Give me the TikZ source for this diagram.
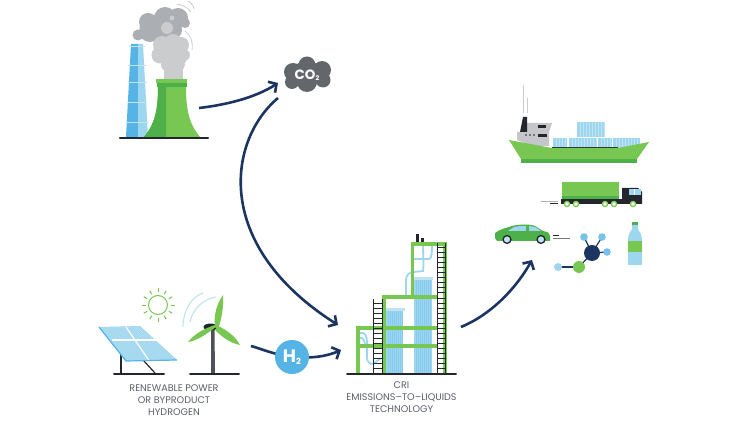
\documentclass[tikz,border=0pt]{standalone}
\usepackage{fontspec}
\setmainfont{Poppins}
\usetikzlibrary{arrows.meta,calc}
\definecolor{navy}{HTML}{1B3560}
\definecolor{gdark}{HTML}{4DB048}
\definecolor{glight}{HTML}{79C753}
\definecolor{bdark}{HTML}{55B3E6}
\definecolor{blight}{HTML}{9DD6EF}
\definecolor{bpale}{HTML}{BFE3F3}
\definecolor{ink}{HTML}{23262C}
\definecolor{smokeA}{HTML}{ABAEB2}
\definecolor{smokeB}{HTML}{CACCCE}
\definecolor{cloud}{HTML}{63676C}
\definecolor{caption}{HTML}{5A5F69}
\tikzset{
  flow/.style={draw=navy,line width=2.6pt,-{Straight Barb[length=6pt,width=13pt,line width=2.6pt]}},
  flowplain/.style={draw=navy,line width=2.6pt},
  label/.style={font=\fontsize{9.6}{12}\selectfont,text=caption,align=center,inner sep=0pt},
  rail/.style={draw=ink,line width=1.5pt},
  frame/.style={draw=glight,line width=3.3pt},
  pipe/.style={draw=blight,line width=1.8pt},
  ground/.style={draw=ink,line width=2pt,line cap=round},
  thinarc/.style={draw=bpale,line width=1.1pt},
  smokearc/.style={draw=smokeB,line width=.8pt},
  rays/.style={draw=glight,line width=1pt},
  box/.style={fill=blight},
}
\begin{document}
\begin{tikzpicture}[x=1pt,y=-1pt]
\useasboundingbox (0,0) rectangle (750,422);

% ---- industrial plant: smoke
\fill[smokeA] (138,35) circle (5.5) (148,22) circle (9) (165,18) circle (11)
  (178,18) circle (10) (185,23) circle (5) (173,30) circle (9) (150,31) circle (11) (161,27) circle (14);
\fill[smokeB] (167,28) circle (6);
\fill[smokeB] (172,18) circle (2.5);
\fill[smokeB] (162,45) circle (9) (173,43) circle (9) (181,45) circle (8) (184,55) circle (6)
  (160,55) circle (8.5) (173,56) circle (14) (180,65) circle (5) (167,65) circle (6);
\fill[smokeB] (164,64) rectangle (183,80);
\draw[smokearc] (177,4) to[bend left=20] (191,12);
\draw[smokearc] (188,1) to[bend left=25] (194,9);
\draw[smokearc] (185,31) to[bend left=30] (192,50);

% ---- industrial plant: stack
\fill[bdark] (131,44) -- (138,44) -- (138,137) -- (126,137) -- cycle;
\fill[blight] (138,44) -- (143,44) -- (148,137) -- (138,137) -- cycle;
\foreach \yy/\xa/\xb in {47/129/145,66/128/146,83/128/147,103/127/147,123/126/149}
  \draw[draw=bpale,line width=1pt] (\xa,\yy) -- (\xb,\yy);

% ---- industrial plant: cooling tower
\fill[glight] (158,87) .. controls (158,112) and (154,125) .. (144,137) -- (200,137)
  .. controls (190,125) and (186,112) .. (186,87) -- cycle;
\fill[gdark] (158,87) .. controls (158,112) and (154,125) .. (144,137) -- (166,137) -- (166,87) -- cycle;
\fill[glight] (156,79) rectangle (187,83);
\fill[gdark] (157,83) rectangle (187,87);
\draw[ground,line width=2.2pt] (120,138) -- (208,138);

% ---- carbon dioxide cloud
\fill[cloud] (293,72) circle (9) (307,65) circle (8.5) (322,70) circle (9) (323,80) circle (7.5)
  (307,82) circle (10) (292,82) circle (7) (307,74) circle (14);
\node[font=\bfseries\fontsize{13.5}{13.5}\selectfont,text=white,inner sep=0pt] (co2) at (307,75)
  {CO\raisebox{-1.5pt}{\fontsize{6.5}{6.5}\selectfont 2}};

% ---- solar panel
\draw[rail,line width=1.8pt] (121,350) -- (121,373);
\draw[rail,line width=1.2pt] (143,360) -- (155,373);
\fill[blight] (99,327) -- (140,326) -- (177,360) -- (126,361) -- cycle;
\foreach \t in {0.05,0.1,...,0.96}
  \draw[draw=bpale,line width=.35pt] ($(99,327)!\t!(140,326)$) -- ($(126,361)!\t!(177,360)$);
\draw[draw=white,line width=1.2pt] (111.5,340) -- (158,340);
\draw[draw=white,line width=1.2pt] (126,327) -- (149,360.5);
\draw[draw=bdark,line width=1.2pt] (99,327) -- (126,361) -- (177,360);
\draw[ground] (114,374) -- (164,374);

% ---- sun
\draw[draw=glight,line width=1pt] (158,305) circle (9.5);
\foreach \a in {0,30,...,330}
  \draw[rays] ($(158,305)+(\a:12.5)$) -- ($(158,305)+(\a:16.5)$);

% ---- wind turbine
\draw[thinarc] (183,327) .. controls (183,311) and (191,297) .. (203,293);
\draw[thinarc] (190,322) .. controls (193,308) and (204,299) .. (216,297);
\fill[ink!80] (211,330) -- (214.5,330) -- (215,373) -- (211,373) -- cycle;
\fill[ink] (210.5,327) ellipse (7 and 3.5);
\fill[glight] (215.5,328) .. controls (213,318) and (216,305) .. (223,295)
  .. controls (224,308) and (221,320) .. (218.5,328) -- cycle;
\fill[glight] (217,326) .. controls (206,335) and (196,341) .. (188,342)
  .. controls (195,333) and (206,328) .. (215,325) -- cycle;
\fill[glight] (218,326) .. controls (227,330) and (236,337) .. (240,345)
  .. controls (230,343) and (222,337) .. (215,330) -- cycle;
\draw[ground] (190,374) -- (239,374);

% ---- process plant
\fill[blight] (386,310) rectangle (403,374);
\foreach \xx in {388,390,...,402} \draw[draw=bdark!70,line width=.4pt] (\xx,311) -- (\xx,374);
\fill[bpale] (384,308) rectangle (405,310.5);
\fill[blight] (414,279) rectangle (432,374);
\foreach \xx in {416,418,...,431} \draw[draw=bdark!70,line width=.4pt] (\xx,280) -- (\xx,374);
\fill[bpale] (413,277.5) rectangle (433,280);
% pipework
\draw[pipe] (406,296) -- (406,281) .. controls (406,274) and (410,272) .. (414,272) -- (423,271)
  .. controls (424,265) and (423,258) .. (423,244);
\draw[pipe] (412,259) -- (429,259) .. controls (432,258) and (432,252) .. (432,244);
\draw[pipe] (357,333) -- (363,333) .. controls (367,334) and (367,340) .. (367,345) -- (367,358)
  .. controls (367,362) and (370,364) .. (374,364);
\draw[pipe] (357,338) -- (362,338) .. controls (364,339) and (365,343) .. (365,345);
\draw[pipe] (373,364) -- (381,358);
% steelwork
\draw[frame] (358,374) -- (358,328) -- (437,328);
\draw[frame] (358,346) -- (437,346);
\draw[frame] (384,374) -- (384,297) -- (437,297);
\draw[frame] (412.5,297) -- (412.5,244) -- (445,244) -- (445,374);
\fill[ink] (416,234) rectangle (419,242.5);
\fill[ink] (421,238) rectangle (424,242.5);
% ladders
\draw[rail] (373.5,299) -- (373.5,374) (382.5,299) -- (382.5,374);
\foreach \yy in {303,308,...,374} \draw[rail,line width=1pt] (373.5,\yy) -- (382.5,\yy);
\draw[rail] (437.5,243) -- (437.5,374) (445.5,243) -- (445.5,374);
\foreach \yy in {248,253,...,374} \draw[rail,line width=1pt] (437.5,\yy) -- (445.5,\yy);
\draw[ground] (347,374) -- (456,374);

% ---- ship
\draw[draw=smokeB,line width=.8pt] (523.5,85) -- (523.5,113);
\draw[draw=smokeB,line width=.8pt] (527,98) -- (527,113);
\fill[box] (577,122) rectangle (605,137);
\fill[box] (553,138) rectangle (567,149);
\fill[box] (569,138) rectangle (597,149);
\fill[box] (598,138) rectangle (612,149);
\fill[box] (613,138) rectangle (640,149);
\foreach \xx in {556,559,...,566,572,575,...,596,601,604,...,611,616,619,...,639}
  \draw[draw=bpale,line width=.3pt] (\xx,138) -- (\xx,148);
\foreach \xx in {580,583,...,604}
  \draw[draw=bpale,line width=.3pt] (\xx,122) -- (\xx,137);
\fill[smokeA!70] (523,123) -- (552,123) -- (549,132) -- (549,146) -- (532,146) -- (517,140) -- (517,132) -- (523,132) -- cycle;
\fill[ink] (523,117) -- (527,117) -- (527,132) -- (520,132) -- cycle;
\fill[ink] (538,125) rectangle (546,128);
\fill[ink] (538,134) rectangle (547,137);
\fill[ink] (526,135) circle (.8) (530,135) circle (.8) (534,135) circle (.8);
\draw[draw=ink,line width=.8pt] (552,147) -- (618,147);
\fill[glight] (509,140) -- (552,148) -- (618,148) -- (649,142) -- (637,159) -- (521,159) -- cycle;
\fill[gdark] (521,159) rectangle (637,163);

% ---- truck
\fill[glight] (562,182) rectangle (619,199);
\fill[gdark] (562,196) rectangle (619,199);
\fill[ink] (561,199) rectangle (642,204);
\fill[ink] (622,188) -- (638,188) -- (642,192) -- (642,204) -- (622,204) -- cycle;
\fill[blight] (629,189.5) rectangle (640.5,195);
\draw[draw=white,line width=.5pt] (634.5,189.5) -- (634.5,195);
\foreach \xx in {567,576,605,614,633}
  \draw[draw=glight,fill=white,line width=1.3pt] (\xx,204) circle (2.6);
\draw[draw=smokeA,line width=.8pt] (541,201) -- (558,201);
\draw[draw=ink,line width=.8pt] (550,203) -- (558,203);

% ---- car
\fill[gdark] (495,238) -- (495,233) .. controls (500,229) and (506,228) .. (512,226)
  .. controls (520,224) and (530,224) .. (535,226) -- (543,231) .. controls (548,232) and (550,233) .. (550,236)
  -- (550,241) -- (497,241) -- cycle;
\fill[blight] (514,227) .. controls (518,226) and (522,226) .. (526,226) -- (526,231) -- (508,231) -- cycle;
\fill[blight] (529,226) -- (535,227) -- (541,231) -- (529,231) -- cycle;
\foreach \xx in {507,541}
  \draw[draw=ink,fill=bpale,line width=1.3pt] (\xx,239.5) circle (3.9);
\draw[draw=ink,line width=.8pt] (553,235) -- (559,235);
\draw[draw=smokeA!60!ink,line width=.8pt] (553,238) -- (570,238);

% ---- molecule
\draw[draw=navy,line width=1.2pt] (592,253) -- (584,237) (592,253) -- (602,237) (592,253) -- (607,252)
  (592,253) -- (579,267);
\draw[draw=navy,line width=1.2pt] (579,267) -- (558,267);
\fill[navy] (592,253) circle (8);
\fill[bdark!80] (584,237) circle (3.8) (602,237) circle (3.8) (607,252) circle (3.8);
\fill[glight] (579,267) circle (6);
\fill[blight] (558,267) circle (4);

% ---- bottle
\fill[blight] (632,225) -- (638,225) -- (638,229) .. controls (640,232) and (642,235) .. (642,240)
  -- (642,265) -- (628,265) -- (628,240) .. controls (628,235) and (630,232) .. (632,229) -- cycle;
\fill[gdark] (632,222) rectangle (638,225);
\fill[glight] (628,241) rectangle (642,252);

% ---- captions
\node[label] (renewable) at (174,400) {RENEWABLE POWER\\[0pt] OR BYPRODUCT\\[0pt]HYDROGEN};
\node[label] (cri) at (401.5,397) {CRI\\[0pt]EMISSIONS–TO–LIQUIDS\\[0pt]TECHNOLOGY};

% ---- flow arrows
\coordinate (plantout) at (199,108);
\coordinate (co2in) at (278,83);
\coordinate (co2out) at (278,98);
\coordinate (criin) at (338,325);
\coordinate (powerout) at (251,346);
\coordinate (crih) at (341,350);
\coordinate (criout) at (461,327);
\coordinate (products) at (532,260);
\draw[flow] (plantout) .. controls (225,105) and (255,98) .. (co2in);
\draw[flow] (co2out) .. controls (228,140) and (212,245) .. (criin);
\draw[flowplain] (powerout) .. controls (262,349) and (272,354) .. (292,357);
\draw[flow] (292,357) .. controls (315,359) and (330,355) .. (crih);
\node[circle,fill=bdark,minimum size=34pt,inner sep=0pt,text=white,font=\bfseries\fontsize{18}{18}\selectfont] (h2) at (292,357)
  {H\raisebox{-1.5pt}{\fontsize{8.5}{8.5}\selectfont 2}};
\draw[flow] (criout) .. controls (490,315) and (515,290) .. (products);
\end{tikzpicture}
\end{document}
